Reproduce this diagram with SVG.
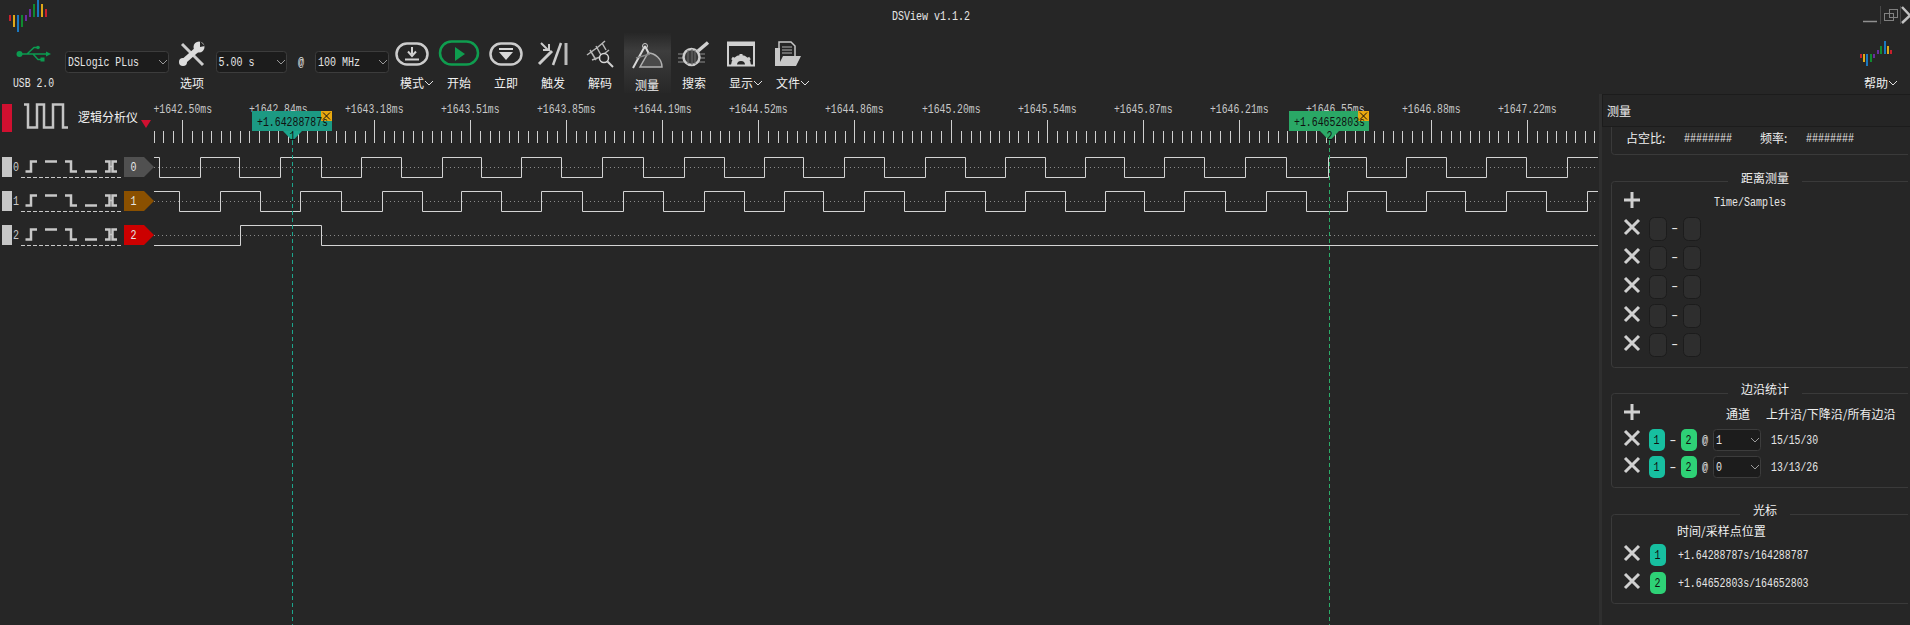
<svg xmlns="http://www.w3.org/2000/svg" width="1910" height="625" viewBox="0 0 1910 625">
<style>
text{font-family:"Noto Sans CJK SC","Liberation Sans",sans-serif;font-size:12px;fill:#f0f0f0}
.m{font-family:"Liberation Mono","Noto Sans CJK SC",monospace;font-size:12px;fill:#e6e6e6}
.r{fill:#c8c8c8}
.k{fill:#101010}
.w{fill:none;stroke:#d4d4d4;stroke-width:1}
.dot{fill:none;stroke:#8a8a8a;stroke-width:1;stroke-dasharray:1 3}
.tick{fill:none;stroke:#d0d0d0;stroke-width:1}
.chev{fill:none;stroke:#9a9a9a;stroke-width:1}
.chevw{fill:none;stroke:#e0e0e0;stroke-width:1}
.combo{fill:#1c1c1c;stroke:#3c3c3c;stroke-width:1}
.frame{fill:none;stroke:#3a3a3a;stroke-width:1}
.ico{fill:none;stroke:#cccccc;stroke-width:2.5}
.tr{fill:none;stroke:#c8c8c8;stroke-width:2.5}
.x{fill:none;stroke:#d0d0d0;stroke-width:3}
.slot{fill:#2e2e2e;stroke:#1c1c1c;stroke-width:1}
.c1{fill:#17bfa0}
.c2{fill:#2ed176}
.gblock{fill:#c6c6c6}
</style>
<defs>
<path id="decade" class="tick" d="M.5 120v23M10.5 131v12M20.5 131v12M29.5 131v12M39.5 131v12M48.5 131v12M58.5 131v12M67.5 131v12M77.5 131v12M87.5 131v12"/>
<g id="trig">
<path class="tr" d="M25.5 10.5H31V0.5H37"/>
<path class="tr" d="M45 0.5H57"/>
<path class="tr" d="M65 0.5H71V10.5H77"/>
<path class="tr" d="M85 10.5H97"/>
<path class="tr" d="M105 0.5H109.500V10.500H105M117 0.5H112.500V10.500H117"/>
<path d="M109 5.500H113" fill="none" stroke="#c8c8c8" stroke-width="1.500"/>
<path d="M21 16.5H121" fill="none" stroke="#c8c8c8" stroke-width="1" stroke-dasharray="4 2"/>
</g>
<path id="xm" class="x" d="M-7 -7L7 7M7 -7L-7 7"/>
<path id="plus" class="x" d="M-8 0H8M0 -8V8"/>
<linearGradient id="hl" x1="0" y1="0" x2="0" y2="1"><stop offset="0" stop-color="#272727"/><stop offset=".3" stop-color="#3d3d3d"/><stop offset="1" stop-color="#272727"/></linearGradient>
</defs>
<rect width="1910" height="625" fill="#262626"/>

<g id="logo">
<rect x="9" y="15" width="2" height="6" fill="#c8202c"/><rect x="13" y="15" width="2" height="12" fill="#e0a818"/><rect x="17" y="15" width="2" height="17" fill="#1a78c0"/><rect x="21" y="15" width="2" height="12" fill="#108a30"/><rect x="25" y="15" width="2" height="6" fill="#6a2ca0"/>
<rect x="29" y="9" width="2" height="8" fill="#6a2ca0"/><rect x="33" y="4" width="2" height="13" fill="#108a30"/><rect x="37" y="0" width="2" height="17" fill="#1a78c0"/><rect x="41" y="4" width="2" height="13" fill="#e0a818"/><rect x="45" y="9" width="2" height="8" fill="#c8202c"/>
</g>
<text id="title" class="m" x="892" y="20" textLength="78" lengthAdjust="spacingAndGlyphs">DSView v1.1.2</text>
<g id="window-controls">
<path d="M1863 21.5H1877" stroke="#909090" stroke-width="1.5" fill="none"/>
<path d="M1880.5 6V24M1900.5 6V24" stroke="#484848" stroke-width="1" fill="none"/>
<rect x="1884.5" y="13.5" width="9" height="7" fill="none" stroke="#808080"/><rect x="1889.5" y="9.5" width="8" height="8" fill="none" stroke="#808080"/>
<path d="M1902 7L1910 15.5L1902 23" stroke="#c0c0c0" stroke-width="2.5" fill="none"/>
</g>

<g id="usb">
<circle cx="19.5" cy="54" r="3" fill="#0c9a50"/>
<path d="M20 54H48M27 54L34 47.5H38M33 54L38 59.5H41" fill="none" stroke="#0c9a50" stroke-width="1.5"/>
<circle cx="38" cy="47.5" r="1.8" fill="#0c9a50"/><rect x="40.5" y="57.5" width="4" height="4" fill="#0c9a50"/><path d="M51 54L46 51.5V56.5Z" fill="#0c9a50"/>
<text class="m" x="13" y="87" textLength="41" lengthAdjust="spacingAndGlyphs">USB 2.0</text>
</g>
<g id="device">
<rect class="combo" x="65.5" y="51.5" width="103" height="21" rx="3"/>
<text class="m" x="68" y="66" textLength="71" lengthAdjust="spacingAndGlyphs">DSLogic PLus</text>
<path class="chev" d="M159 60L163 64L167 60"/>
</g>
<g id="options">
<path d="M182 44L203 65" stroke="#cccccc" stroke-width="3" fill="none"/>
<path d="M200 47L183 62" stroke="#dddddd" stroke-width="5.5" fill="none"/>
<circle cx="199" cy="47" r="5.5" fill="#dddddd"/><path d="M200 41L205 46L200 47Z" fill="#262626"/>
<circle cx="183" cy="62" r="4" fill="#dddddd"/>
<text x="180" y="88">选项</text>
</g>
<g id="duration">
<rect class="combo" x="216.5" y="51.5" width="70" height="21" rx="3"/>
<text class="m" x="218.5" y="66" textLength="36" lengthAdjust="spacingAndGlyphs">5.00 s</text>
<path class="chev" d="M277 60L281 64L285 60"/>
</g>
<text id="at" class="m" x="298" y="66" textLength="6" lengthAdjust="spacingAndGlyphs">@</text>
<g id="rate">
<rect class="combo" x="315.5" y="51.5" width="73" height="21" rx="3"/>
<text class="m" x="318" y="66" textLength="42" lengthAdjust="spacingAndGlyphs">100 MHz</text>
<path class="chev" d="M379 60L383 64L387 60"/>
</g>
<g id="mode">
<rect class="ico" x="396.5" y="43.5" width="31" height="21" rx="10.5"/>
<path d="M412 47V54M408 51.5L412 56L416 51.5" fill="none" stroke="#d0d0d0" stroke-width="2"/><path d="M405 59.5H419" stroke="#d0d0d0" stroke-width="2" fill="none"/>
<text x="400" y="88">模式</text><path class="chevw" d="M425 81L429 85L433 81"/>
</g>
<g id="start">
<rect x="440" y="41.5" width="38" height="23" rx="11.5" fill="none" stroke="#0f9d4f" stroke-width="2.5"/>
<path d="M455 47V61L465 54Z" fill="#0f9d4f"/>
<text x="447" y="88">开始</text>
</g>
<g id="instant">
<rect class="ico" x="490.5" y="43.5" width="31" height="21" rx="10.5"/>
<path d="M499 48H513V50H499ZM499 52H513L506 60Z" fill="#d8d8d8"/>
<text x="494" y="88">立即</text>
</g>
<g id="trigger">
<path d="M541 43L548 50M543 50H549V44" fill="none" stroke="#cccccc" stroke-width="2"/>
<path d="M539 64L552 51" fill="none" stroke="#cccccc" stroke-width="3"/>
<path d="M553 65L561 43" fill="none" stroke="#cccccc" stroke-width="2.5"/>
<path d="M566 43V65" fill="none" stroke="#bbbbbb" stroke-width="3"/>
<text x="541" y="88">触发</text>
</g>
<g id="decode">
<path d="M587 55L598 47L605 41M592 60L600 57L609 50M590 50L596 60M596 46L601 55M602 43L606 50" fill="none" stroke="#b8b8b8" stroke-width="1.5"/>
<circle cx="604" cy="58" r="4.5" fill="#262626" stroke="#d8d8d8" stroke-width="1.5"/>
<path d="M607.5 61.5L613 67" fill="none" stroke="#d0d0d0" stroke-width="2"/>
<text x="588" y="88">解码</text>
</g>
<g id="measure">
<rect x="624" y="33" width="47" height="60" fill="url(#hl)"/>
<path d="M645 46L633 68M645 46L652 60" fill="none" stroke="#d8d8d8" stroke-width="2"/>
<circle cx="645" cy="46" r="2.5" fill="none" stroke="#cccccc"/>
<path d="M640 67H662C662 59 655 53 648 53Z" fill="#4a4a4a" stroke="#b0b0b0" stroke-width="1.5"/>
<path d="M636 58L650 54" fill="none" stroke="#888888" stroke-width="1.5"/>
<text x="635" y="90">测量</text>
</g>
<g id="search">
<path d="M678 54H705M678 58H705M678 62H705" fill="none" stroke="#5a5a5a" stroke-width="2"/>
<circle cx="691.5" cy="57" r="8" fill="#3a3a3a" stroke="#cccccc" stroke-width="2.5"/>
<path d="M688 50V64M692 49V65M695 50V64" fill="none" stroke="#6a6a6a" stroke-width="1"/>
<path d="M698 51L708 42.5" fill="none" stroke="#d0d0d0" stroke-width="3.5"/>
<text x="682" y="88">搜索</text>
</g>
<g id="display">
<rect x="728" y="42.5" width="26" height="23" fill="none" stroke="#d0d0d0" stroke-width="2"/>
<rect x="728" y="42" width="26" height="4" fill="#d0d0d0"/>
<path d="M731 65A10 10 0 0 1 751 65H745A4 4 0 0 0 737 65Z" fill="#d0d0d0"/>
<path d="M741 54V57M732 58L735 60M750 58L747 60" fill="none" stroke="#d0d0d0" stroke-width="3"/>
<text x="729" y="88">显示</text><path class="chevw" d="M754 81L758 85L762 81"/>
</g>
<g id="file">
<path d="M779 58V42H791L795 46V56" fill="none" stroke="#c8c8c8" stroke-width="1.5"/>
<path d="M782 47H792M782 50H792M782 53H792" stroke="#b0b0b0" stroke-width="1" fill="none"/>
<path d="M775 48V66H796L801 56H783L780 62V48Z" fill="#c8c8c8"/>
<text x="776" y="88">文件</text><path class="chevw" d="M801 81L805 85L809 81"/>
</g>
<g id="help">
<rect x="1860" y="54" width="2" height="4" fill="#c8202c"/><rect x="1863" y="54" width="2" height="8" fill="#e0a818"/><rect x="1866" y="54" width="2" height="12" fill="#1a78c0"/><rect x="1870" y="54" width="2" height="8" fill="#108a30"/><rect x="1873" y="54" width="2" height="4" fill="#6a2ca0"/>
<rect x="1877" y="50" width="2" height="4" fill="#6a2ca0"/><rect x="1880" y="46" width="2" height="8" fill="#108a30"/><rect x="1884" y="41" width="2" height="13" fill="#1a78c0"/><rect x="1887" y="46" width="2" height="8" fill="#e0a818"/><rect x="1890" y="50" width="2" height="4" fill="#c8202c"/>
<text x="1864" y="88">帮助</text><path class="chevw" d="M1889 81L1893 85L1897 81"/>
</g>

<g id="analyzer">
<rect x="2" y="104" width="10" height="28" fill="#d01030"/>
<path d="M24 104.500H28V127.500H37V104.500H44V127.500H53V104.500H63V127.500H68" fill="none" stroke="#c4c4c4" stroke-width="2.5"/>
<text x="78" y="122">逻辑分析仪</text>
<path d="M141 120L151 120L146 128Z" fill="#d01030"/>
</g>

<g id="ruler">
<use href="#decade" x="182"/><use href="#decade" x="278"/><use href="#decade" x="374"/><use href="#decade" x="470"/><use href="#decade" x="566"/><use href="#decade" x="662"/><use href="#decade" x="758"/><use href="#decade" x="854"/><use href="#decade" x="951"/><use href="#decade" x="1047"/><use href="#decade" x="1143"/><use href="#decade" x="1239"/><use href="#decade" x="1335"/><use href="#decade" x="1431"/>
<path class="tick" d="M154.5 131v12M163.5 131v12M173.5 131v12M1527.5 120v23M1537.5 131v12M1547.5 131v12M1556.5 131v12M1566.5 131v12M1575.5 131v12M1585.5 131v12M1594.5 131v12"/>
<text class="m r" x="153.5" y="113" textLength="58.5" lengthAdjust="spacingAndGlyphs">+1642.50ms</text>
<text class="m r" x="249" y="113" textLength="58.5" lengthAdjust="spacingAndGlyphs">+1642.84ms</text>
<text class="m r" x="345" y="113" textLength="58.5" lengthAdjust="spacingAndGlyphs">+1643.18ms</text>
<text class="m r" x="441" y="113" textLength="58.5" lengthAdjust="spacingAndGlyphs">+1643.51ms</text>
<text class="m r" x="537" y="113" textLength="58.5" lengthAdjust="spacingAndGlyphs">+1643.85ms</text>
<text class="m r" x="633" y="113" textLength="58.5" lengthAdjust="spacingAndGlyphs">+1644.19ms</text>
<text class="m r" x="729" y="113" textLength="58.5" lengthAdjust="spacingAndGlyphs">+1644.52ms</text>
<text class="m r" x="825" y="113" textLength="58.5" lengthAdjust="spacingAndGlyphs">+1644.86ms</text>
<text class="m r" x="922" y="113" textLength="58.5" lengthAdjust="spacingAndGlyphs">+1645.20ms</text>
<text class="m r" x="1018" y="113" textLength="58.5" lengthAdjust="spacingAndGlyphs">+1645.54ms</text>
<text class="m r" x="1114" y="113" textLength="58.5" lengthAdjust="spacingAndGlyphs">+1645.87ms</text>
<text class="m r" x="1210" y="113" textLength="58.5" lengthAdjust="spacingAndGlyphs">+1646.21ms</text>
<text class="m r" x="1306" y="113" textLength="58.5" lengthAdjust="spacingAndGlyphs">+1646.55ms</text>
<text class="m r" x="1402" y="113" textLength="58.5" lengthAdjust="spacingAndGlyphs">+1646.88ms</text>
<text class="m r" x="1498" y="113" textLength="58.5" lengthAdjust="spacingAndGlyphs">+1647.22ms</text>
</g>

<g id="channel-0">
<rect class="gblock" x="2" y="157" width="10" height="20"/>
<text class="m r" x="13" y="171" textLength="6" lengthAdjust="spacingAndGlyphs">0</text>
<use href="#trig" y="161"/>
<path d="M124 157H144L154 167L144 177H124Z" fill="#505050"/>
<text class="m" x="130.5" y="171" textLength="6" lengthAdjust="spacingAndGlyphs">0</text>
</g>
<g id="channel-1">
<rect class="gblock" x="2" y="191" width="10" height="20"/>
<text class="m r" x="13" y="205" textLength="6" lengthAdjust="spacingAndGlyphs">1</text>
<use href="#trig" y="195"/>
<path d="M124 191H144L154 201L144 211H124Z" fill="#8a5000"/>
<text class="m" x="130.5" y="205" textLength="6" lengthAdjust="spacingAndGlyphs">1</text>
</g>
<g id="channel-2">
<rect class="gblock" x="2" y="225" width="10" height="20"/>
<text class="m r" x="13" y="239" textLength="6" lengthAdjust="spacingAndGlyphs">2</text>
<use href="#trig" y="229"/>
<path d="M124 225H144L154 235L144 245H124Z" fill="#cc0000"/>
<text class="m" x="130.5" y="239" textLength="6" lengthAdjust="spacingAndGlyphs">2</text>
</g>

<g id="connectors">
<path class="dot" d="M154 167.5H1598M154 201.5H1598M154 235.5H1598"/>
<path class="w" d="M154 157.5H159.5V177.5H200.5V157.5H239.5V177.5H280.5V157.5H321.5V177.5H361.5V157.5H401.5V177.5H442.5V157.5H481.5V177.5H521.5V157.5H561.5V177.5H602.5V157.5H643.5V177.5H684.5V157.5H724.5V177.5H764.5V157.5H803.5V177.5H844.5V157.5H884.5V177.5H925.5V157.5H965.5V177.5H1005.5V157.5H1045.5V177.5H1085.5V157.5H1124.5V177.5H1164.5V157.5H1204.5V177.5H1245.5V157.5H1286.5V177.5H1328.5V157.5H1366.5V177.5H1406.5V157.5H1446.5V177.5H1486.5V157.5H1526.5V177.5H1567.5V157.5H1598"/>
<path class="w" d="M154 191.5H179.5V211.5H220.5V191.5H260.5V211.5H300.5V191.5H341.5V211.5H382.5V191.5H422.5V211.5H461.5V191.5H501.5V211.5H541.5V191.5H582.5V211.5H623.5V191.5H663.5V211.5H704.5V191.5H744.5V211.5H784.5V191.5H823.5V211.5H864.5V191.5H904.5V211.5H945.5V191.5H985.5V211.5H1025.5V191.5H1065.5V211.5H1105.5V191.5H1144.5V211.5H1184.5V191.5H1225.5V211.5H1266.5V191.5H1306.5V211.5H1347.5V191.5H1386.5V211.5H1426.5V191.5H1465.5V211.5H1506.5V191.5H1546.5V211.5H1587.5V191.5H1598"/>
<path class="w" d="M154 245.5H240.5V225.5H321.5V245.5H1598"/>
<path d="M292.5 141V625" fill="none" stroke="#1ca58c" stroke-width="1" stroke-dasharray="4 3"/>
<path d="M1329.5 141V625" fill="none" stroke="#2cab68" stroke-width="1" stroke-dasharray="4 3"/>
</g>

<g id="cursor-1">
<rect x="252" y="111" width="80" height="20" fill="#1c9a83"/>
<rect x="321" y="111" width="11" height="10" fill="#e8a80f"/>
<path d="M323 112.5L330 119.5M330 112.5L323 119.5" stroke="#101010" stroke-width="1" fill="none"/>
<text class="m k" x="257" y="126" textLength="71" lengthAdjust="spacingAndGlyphs">+1.64288787s</text>
<path d="M283 131H302L292.5 141Z" fill="#1ca58c"/>
<text class="m k" x="289.5" y="140" textLength="6" lengthAdjust="spacingAndGlyphs">1</text>
</g>
<g id="cursor-2">
<rect x="1289" y="111" width="80" height="20" fill="#2aa866"/>
<rect x="1358" y="111" width="11" height="10" fill="#e8a80f"/>
<path d="M1360 112.5L1367 119.5M1367 112.5L1360 119.5" stroke="#101010" stroke-width="1" fill="none"/>
<text class="m k" x="1294" y="126" textLength="71" lengthAdjust="spacingAndGlyphs">+1.64652803s</text>
<path d="M1320 131H1339L1329.5 141Z" fill="#2cab68"/>
<text class="m k" x="1326.5" y="140" textLength="6" lengthAdjust="spacingAndGlyphs">2</text>
</g>

<g id="panel">
<rect x="1599" y="94" width="3" height="531" fill="#2f2f2f"/>
<rect x="1602.5" y="94.5" width="308" height="32" fill="#252525" stroke="#1c1c1c"/>
<text x="1607" y="116">测量</text>
</g>
<g id="duty">
<path class="frame" d="M1611.5 127V151.5Q1611.5 154.5 1614.5 154.5H1908"/>
<text x="1626" y="143">占空比:</text>
<text class="m" x="1684" y="142" textLength="48" lengthAdjust="spacingAndGlyphs">########</text>
<text x="1760" y="143">频率:</text>
<text class="m" x="1806" y="142" textLength="48" lengthAdjust="spacingAndGlyphs">########</text>
</g>
<g id="distance">
<path class="frame" d="M1728 181.5H1614.5Q1611.5 181.5 1611.5 184.5V364Q1611.5 367.5 1614.5 367.5H1908M1802 181.5H1908"/>
<text x="1741" y="183">距离测量</text>
<use href="#plus" x="1632" y="200"/>
<text class="m" x="1714" y="206" textLength="72" lengthAdjust="spacingAndGlyphs">Time/Samples</text>
<use href="#xm" x="1632" y="227"/><use href="#xm" x="1632" y="256"/><use href="#xm" x="1632" y="285"/><use href="#xm" x="1632" y="314"/><use href="#xm" x="1632" y="343"/>
<rect class="slot" x="1649.5" y="217.5" width="17" height="23" rx="5"/><rect class="slot" x="1683.5" y="217.5" width="17" height="23" rx="5"/>
<rect class="slot" x="1649.5" y="246.5" width="17" height="23" rx="5"/><rect class="slot" x="1683.5" y="246.5" width="17" height="23" rx="5"/>
<rect class="slot" x="1649.5" y="275.5" width="17" height="23" rx="5"/><rect class="slot" x="1683.5" y="275.5" width="17" height="23" rx="5"/>
<rect class="slot" x="1649.5" y="304.5" width="17" height="23" rx="5"/><rect class="slot" x="1683.5" y="304.5" width="17" height="23" rx="5"/>
<rect class="slot" x="1649.5" y="333.5" width="17" height="23" rx="5"/><rect class="slot" x="1683.5" y="333.5" width="17" height="23" rx="5"/>
<text class="m" x="1669.2" y="232" textLength="10.8" lengthAdjust="spacingAndGlyphs">-</text>
<text class="m" x="1669.2" y="261" textLength="10.8" lengthAdjust="spacingAndGlyphs">-</text>
<text class="m" x="1669.2" y="290" textLength="10.8" lengthAdjust="spacingAndGlyphs">-</text>
<text class="m" x="1669.2" y="319" textLength="10.8" lengthAdjust="spacingAndGlyphs">-</text>
<text class="m" x="1669.2" y="348" textLength="10.8" lengthAdjust="spacingAndGlyphs">-</text>
</g>
<g id="edges">
<path class="frame" d="M1728 393.5H1614.5Q1611.5 393.5 1611.5 396.5V484Q1611.5 487.5 1614.5 487.5H1908M1802 393.5H1908"/>
<text x="1741" y="394">边沿统计</text>
<use href="#plus" x="1632" y="412"/>
<text x="1726" y="419">通道</text>
<text x="1766" y="419">上升沿/下降沿/所有边沿</text>
<use href="#xm" x="1632" y="438"/>
<rect class="c1" x="1649" y="429" width="16" height="22" rx="5"/><text class="m k" x="1653.5" y="444" textLength="6" lengthAdjust="spacingAndGlyphs">1</text>
<text class="m" x="1667.6" y="443.500" textLength="10.8" lengthAdjust="spacingAndGlyphs">-</text>
<rect class="c2" x="1681" y="429" width="16" height="22" rx="5"/><text class="m k" x="1685.5" y="444" textLength="6" lengthAdjust="spacingAndGlyphs">2</text>
<text class="m" x="1702" y="444" textLength="6" lengthAdjust="spacingAndGlyphs">@</text>
<rect class="combo" x="1713.5" y="429.5" width="47" height="21" rx="3"/>
<text class="m" x="1716" y="444" textLength="6" lengthAdjust="spacingAndGlyphs">1</text>
<path class="chev" d="M1751 438L1755 442L1759 438"/>
<text class="m" x="1771" y="444" textLength="47" lengthAdjust="spacingAndGlyphs">15/15/30</text>
<use href="#xm" x="1632" y="465"/>
<rect class="c1" x="1649" y="456" width="16" height="22" rx="5"/><text class="m k" x="1653.5" y="471" textLength="6" lengthAdjust="spacingAndGlyphs">1</text>
<text class="m" x="1667.6" y="470.500" textLength="10.8" lengthAdjust="spacingAndGlyphs">-</text>
<rect class="c2" x="1681" y="456" width="16" height="22" rx="5"/><text class="m k" x="1685.5" y="471" textLength="6" lengthAdjust="spacingAndGlyphs">2</text>
<text class="m" x="1702" y="471" textLength="6" lengthAdjust="spacingAndGlyphs">@</text>
<rect class="combo" x="1713.5" y="456.5" width="47" height="21" rx="3"/>
<text class="m" x="1716" y="471" textLength="6" lengthAdjust="spacingAndGlyphs">0</text>
<path class="chev" d="M1751 465L1755 469L1759 465"/>
<text class="m" x="1771" y="471" textLength="47" lengthAdjust="spacingAndGlyphs">13/13/26</text>
</g>
<g id="cursors">
<path class="frame" d="M1740 514.5H1614.5Q1611.5 514.5 1611.5 517.5V600Q1611.5 603.5 1614.5 603.5H1908M1790 514.5H1908"/>
<text x="1753" y="515">光标</text>
<text x="1677" y="536">时间/采样点位置</text>
<use href="#xm" x="1632" y="553"/>
<rect class="c1" x="1650" y="544" width="16" height="22" rx="5"/><text class="m k" x="1654.5" y="559" textLength="6" lengthAdjust="spacingAndGlyphs">1</text>
<text class="m" x="1678" y="559" textLength="130.5" lengthAdjust="spacingAndGlyphs">+1.64288787s/164288787</text>
<use href="#xm" x="1632" y="581"/>
<rect class="c2" x="1650" y="572" width="16" height="22" rx="5"/><text class="m k" x="1654.5" y="587" textLength="6" lengthAdjust="spacingAndGlyphs">2</text>
<text class="m" x="1678" y="587" textLength="130.5" lengthAdjust="spacingAndGlyphs">+1.64652803s/164652803</text>
</g>
</svg>
